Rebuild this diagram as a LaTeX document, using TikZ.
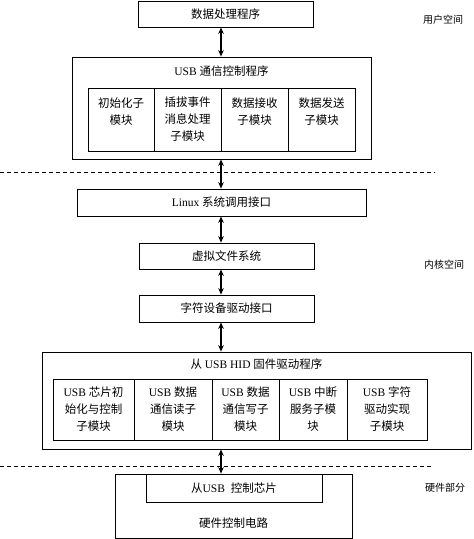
\documentclass[tikz,border=0pt]{standalone}
\usepackage{fontspec}
\usetikzlibrary{arrows.meta}
\setmainfont{Liberation Serif}
\newfontfamily\cjk{Noto Sans CJK SC}
\newcommand{\zh}[1]{{\cjk #1}}

\begin{document}
\begin{tikzpicture}[x=1pt,y=1pt,font=\fontsize{11.5}{17}\selectfont]
\tikzstyle{lien}=[<->,>={Stealth[length=6.5pt,width=5.5pt]},line width=1.3pt]
\tikzstyle{separation}=[dash pattern=on 4pt off 3pt,line width=0.6pt]
\tikzset{bloc/.style={draw,line width=0.8pt,inner sep=0pt,align=center,minimum width=#1},
bloc/.default={175},
espace/.style={font=\fontsize{10}{12}\selectfont}}
\useasboundingbox (0,0) rectangle (474,-539);
\coordinate (axe) at (221,0);

\node[bloc,minimum height=26] (P) at (225.5,-14) {\zh{数据处理程序}};
\node[bloc=299,minimum height=102,label={[anchor=center,yshift=-15pt]north:USB \zh{通信控制程序}}] (C) at (221.5,-108) {};
\node[bloc=66,minimum height=63] (C1) at (121,-119.5) {\zh{初始化子}\\\zh{模块}\\~};
\node[bloc=67,minimum height=63] (C2) at (187.5,-119.5) {\zh{插拔事件}\\\zh{消息处理}\\\zh{子模块}};
\node[bloc=67,minimum height=63] (C3) at (254.5,-119.5) {\zh{数据接收}\\\zh{子模块}\\~};
\node[bloc=67,minimum height=63] (C4) at (321.5,-119.5) {\zh{数据发送}\\\zh{子模块}\\~};

\node[bloc=289,minimum height=27] (L) at (221.5,-202.5) {Linux \zh{系统调用接口}};
\node[bloc,minimum height=26] (V) at (226.5,-256) {\zh{虚拟文件系统}};
\node[bloc,minimum height=27] (S) at (226.5,-308.5) {\zh{字符设备驱动接口}};

\node[bloc=429,minimum height=97,label={[anchor=center,yshift=-13pt]north:\zh{从} USB HID \zh{固件驱动程序}}] (H) at (256.5,-400.5) {};
\node[bloc=81,minimum height=61] (H1) at (93.5,-409.5) {USB \zh{芯片初}\\\zh{始化与控制}\\\zh{子模块}};
\node[bloc=78,minimum height=61] (H2) at (173,-409.5) {USB \zh{数据}\\\zh{通信读子}\\\zh{模块}};
\node[bloc=67,minimum height=61] (H3) at (245.5,-409.5) {USB \zh{数据}\\\zh{通信写子}\\\zh{模块}};
\node[bloc=68,minimum height=61] (H4) at (313,-409.5) {USB \zh{中断}\\\zh{服务子模}\\\zh{块}};
\node[bloc=80,minimum height=61] (H5) at (387,-409.5) {USB \zh{字符}\\\zh{驱动实现}\\\zh{子模块}};

\node[bloc=237,minimum height=64,label={[anchor=center,yshift=15pt]south:\zh{硬件控制电路}}] (M) at (233.5,-506) {};
\node[bloc=176,minimum height=28] (M1) at (234,-488) {\zh{从}USB\ \ \zh{控制芯片}};

\node[espace] (us) at (443,-20) {\zh{用户空间}};
\node[espace] (ks) at (444,-265) {\zh{内核空间}};
\node[espace] (hp) at (445,-488) {\zh{硬件部分}};

\draw[separation] (0,-172) -- (435,-172);
\draw[separation] (0,-466) -- (432,-466);

\draw[lien] (P.south -| axe) -- (C.north -| axe);
\draw[lien] (C.south -| axe) -- (L.north -| axe);
\draw[lien] (L.south -| axe) -- (V.north -| axe);
\draw[lien] (V.south -| axe) -- (S.north -| axe);
\draw[lien] (S.south -| axe) -- (H.north -| axe);
\draw[lien] (H.south -| axe) -- (M.north -| axe);

\end{tikzpicture}
\end{document}
